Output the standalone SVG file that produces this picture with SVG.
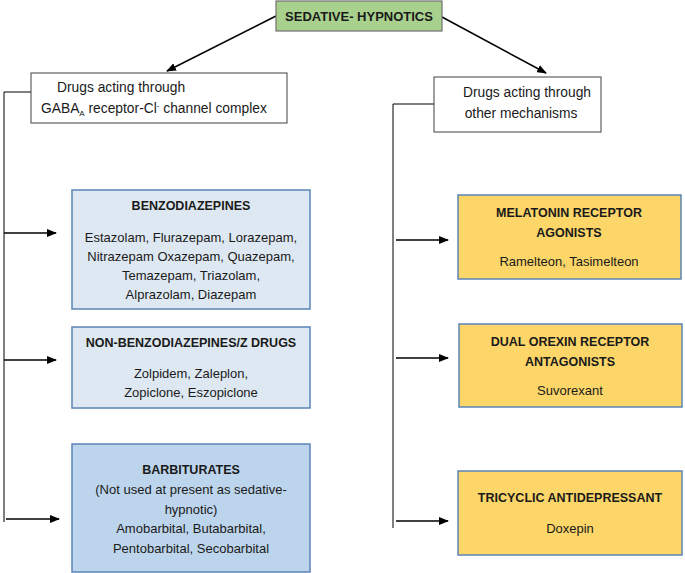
<svg xmlns="http://www.w3.org/2000/svg" width="685" height="573" viewBox="0 0 685 573">
<defs>
<marker id="ah" markerWidth="10" markerHeight="8" refX="9" refY="4" orient="auto" markerUnits="userSpaceOnUse">
<path d="M0,0 L10,4 L0,8 Z" fill="#000"/>
</marker>
<style>
text{font-family:"Liberation Sans",Arial,sans-serif;font-size:13px;fill:#1a1a1a;text-anchor:middle}
.b{font-weight:bold;font-size:12.5px}
.l{text-anchor:start}
.m{font-size:13.8px}
.plain{fill:#fff;stroke:#404040;stroke-width:1}
.blue{fill:#dee8f2;stroke:#5b84b5;stroke-width:1.5}
.blue2{fill:#bdd5ec;stroke:#5b84b5;stroke-width:1.5}
.yel{fill:#fcd669;stroke:#5b84b5;stroke-width:1.5}
.green{fill:#a9d18e;stroke:#707070;stroke-width:1.2}
.ln{stroke:#000;stroke-width:1;fill:none}
.ar{stroke:#000;stroke-width:1.5;fill:none;marker-end:url(#ah)}
</style>
</defs>
<rect width="685" height="573" fill="#fff"/>
<g id="connectors">
<line class="ar" x1="276" y1="16" x2="167" y2="71"/>
<line class="ar" x1="442" y1="17" x2="546" y2="73"/>
<polyline class="ln" points="31,92 4,92 4,522"/>
<line class="ar" x1="4" y1="233" x2="56" y2="233"/>
<line class="ar" x1="4" y1="360" x2="56" y2="360"/>
<line class="ar" x1="6" y1="519" x2="59" y2="519"/>
<polyline class="ln" points="434,104 393,104 393,528"/>
<line class="ar" x1="396" y1="240" x2="448" y2="240"/>
<line class="ar" x1="396" y1="358" x2="448" y2="358"/>
<line class="ar" x1="396" y1="521" x2="448" y2="521"/>
</g>
<g id="root">
<rect class="green" x="276" y="1" width="166" height="30"/>
<text class="b" x="359" y="21" style="font-size:13px">SEDATIVE- HYPNOTICS</text>
</g>
<g id="gaba">
<rect class="plain" x="31" y="73" width="256" height="50"/>
<text class="l m" x="57" y="92">Drugs acting through</text>
<text class="l m" x="41" y="113">GABA<tspan font-size="8" dy="3">A</tspan><tspan dy="-3"> receptor-Cl</tspan><tspan font-size="8" dy="-5">-</tspan><tspan dy="5"> channel complex</tspan></text>
</g>
<g id="other">
<rect class="plain" x="434" y="77" width="167" height="55"/>
<text class="m" x="527" y="97">Drugs acting through</text>
<text class="m" x="521" y="118">other mechanisms</text>
</g>
<g id="benzo">
<rect class="blue" x="72" y="190" width="238" height="119"/>
<text class="b" x="191" y="210">BENZODIAZEPINES</text>
<text x="191" y="242">Estazolam, Flurazepam, Lorazepam,</text>
<text x="191" y="261">Nitrazepam Oxazepam, Quazepam,</text>
<text x="191" y="280">Temazepam, Triazolam,</text>
<text x="191" y="299">Alprazolam, Diazepam</text>
</g>
<g id="zdrugs">
<rect class="blue" x="72" y="327" width="238" height="81"/>
<text class="b" x="191" y="347">NON-BENZODIAZEPINES/Z DRUGS</text>
<text x="191" y="378">Zolpidem, Zaleplon,</text>
<text x="191" y="397">Zopiclone, Eszopiclone</text>
</g>
<g id="barb">
<rect class="blue2" x="72" y="444" width="238" height="128"/>
<text class="b" x="191" y="474">BARBITURATES</text>
<text x="191" y="494">(Not used at present as sedative-</text>
<text x="191" y="514">hypnotic)</text>
<text x="191" y="533">Amobarbital, Butabarbital,</text>
<text x="191" y="553">Pentobarbital, Secobarbital</text>
</g>
<g id="melatonin">
<rect class="yel" x="458" y="195" width="223" height="84"/>
<text class="b" x="569" y="217">MELATONIN RECEPTOR</text>
<text class="b" x="569" y="237">AGONISTS</text>
<text x="569" y="266">Ramelteon, Tasimelteon</text>
</g>
<g id="orexin">
<rect class="yel" x="459" y="324" width="223" height="83"/>
<text class="b" x="570" y="346">DUAL OREXIN RECEPTOR</text>
<text class="b" x="570" y="366">ANTAGONISTS</text>
<text x="570" y="395">Suvorexant</text>
</g>
<g id="tca">
<rect class="yel" x="458" y="471" width="224" height="84"/>
<text class="b" x="570" y="502">TRICYCLIC ANTIDEPRESSANT</text>
<text x="570" y="533">Doxepin</text>
</g>
</svg>
